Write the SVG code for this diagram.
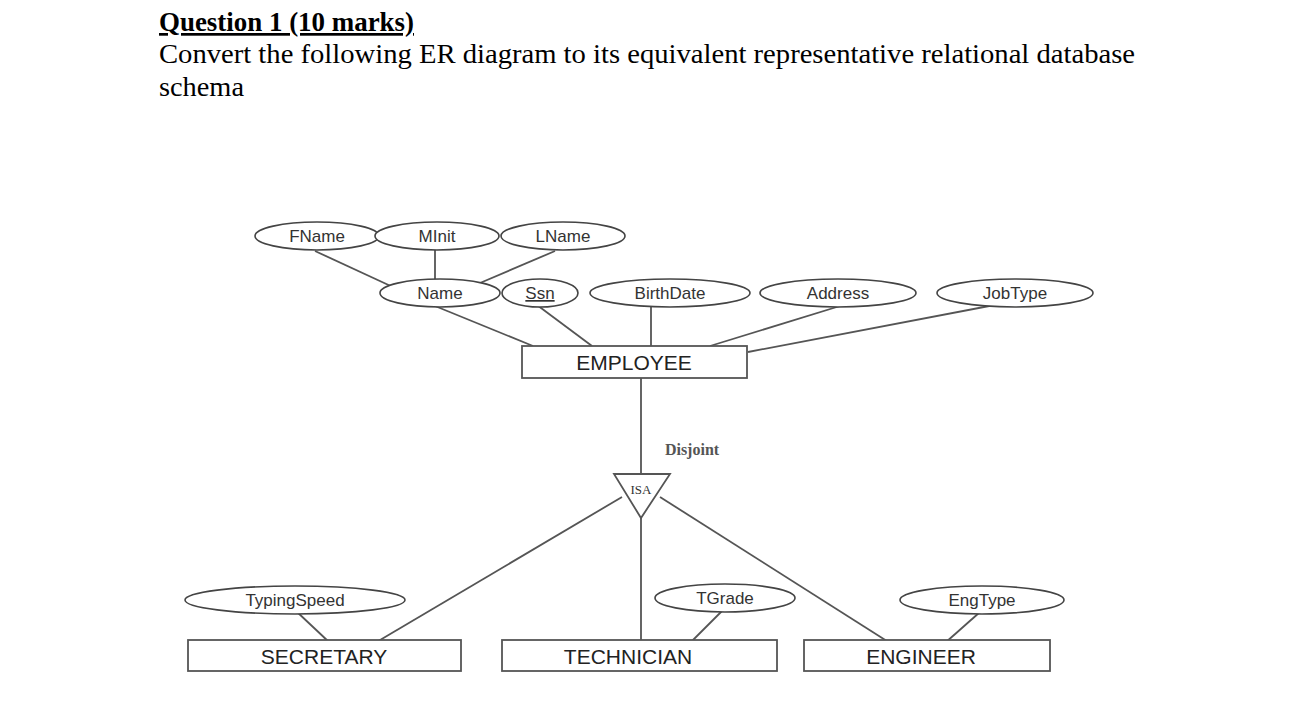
<svg xmlns="http://www.w3.org/2000/svg" width="1316" height="722" viewBox="0 0 1316 722">
<style>
.h{font-family:"Liberation Serif",serif;font-size:27px;fill:#000}
.a{fill:#fff;stroke:#444;stroke-width:1.6}
.e{fill:#fff;stroke:#555;stroke-width:1.8}
.t{font-family:"Liberation Sans",Arial,sans-serif;font-size:17px;fill:#333;text-anchor:middle}
.et{font-family:"Liberation Sans",Arial,sans-serif;font-size:21px;fill:#222;text-anchor:middle}
.l{stroke:#555;stroke-width:1.8;fill:none}
</style>
<rect width="1316" height="722" fill="#fff"/>
<text class="h" x="159" y="31" font-weight="bold" text-decoration="underline" textLength="255" lengthAdjust="spacingAndGlyphs">Question 1 (10 marks)</text>
<text class="h" x="159" y="63" textLength="976" lengthAdjust="spacingAndGlyphs">Convert the following ER diagram to its equivalent representative relational database</text>
<text class="h" x="159" y="96" textLength="85" lengthAdjust="spacingAndGlyphs">schema</text>
<g id="connectors">
<line class="l" x1="315" y1="251" x2="395" y2="288"/>
<line class="l" x1="435" y1="250" x2="435" y2="280"/>
<line class="l" x1="555" y1="251" x2="480" y2="283"/>
<line class="l" x1="435" y1="306" x2="533" y2="346"/>
<line class="l" x1="537" y1="305" x2="592" y2="346"/>
<line class="l" x1="651" y1="307" x2="651" y2="346"/>
<line class="l" x1="840" y1="306" x2="710" y2="346"/>
<line class="l" x1="1005" y1="303" x2="748" y2="352"/>
<line class="l" x1="641" y1="378" x2="641" y2="474"/>
<line class="l" x1="622" y1="497" x2="375" y2="643"/>
<line class="l" x1="660" y1="497" x2="890" y2="643"/>
<line class="l" x1="641" y1="518" x2="641" y2="643"/>
<line class="l" x1="295" y1="610" x2="330" y2="643"/>
<line class="l" x1="722" y1="611" x2="690" y2="643"/>
<line class="l" x1="980" y1="612" x2="945" y2="643"/>
</g>
<g id="FName"><ellipse class="a" cx="317" cy="236" rx="62" ry="14"/><text class="t" x="317" y="242">FName</text></g>
<g id="MInit"><ellipse class="a" cx="437" cy="236" rx="62" ry="14"/><text class="t" x="437" y="242">MInit</text></g>
<g id="LName"><ellipse class="a" cx="563" cy="236" rx="62" ry="14"/><text class="t" x="563" y="242">LName</text></g>
<g id="Name"><ellipse class="a" cx="440" cy="293" rx="60" ry="14"/><text class="t" x="440" y="299">Name</text></g>
<g id="Ssn"><ellipse class="a" cx="540" cy="293" rx="38" ry="14"/><text class="t" x="540" y="299" text-decoration="underline">Ssn</text></g>
<g id="BirthDate"><ellipse class="a" cx="670" cy="293" rx="80" ry="14"/><text class="t" x="670" y="299">BirthDate</text></g>
<g id="Address"><ellipse class="a" cx="838" cy="293" rx="78" ry="14"/><text class="t" x="838" y="299">Address</text></g>
<g id="JobType"><ellipse class="a" cx="1015" cy="293" rx="78" ry="14"/><text class="t" x="1015" y="299">JobType</text></g>
<g id="EMPLOYEE"><rect class="e" x="522" y="346" width="225" height="32"/><text class="et" x="634" y="370">EMPLOYEE</text></g>
<g id="ISA"><polygon class="e" points="614,474 670,474 641,518"/><text x="641" y="494" font-family="Liberation Serif,serif" font-size="13" fill="#333" text-anchor="middle">ISA</text></g>
<text x="692" y="455" font-family="Liberation Serif,serif" font-size="16" font-weight="bold" fill="#555" text-anchor="middle">Disjoint</text>
<g id="TypingSpeed"><ellipse class="a" cx="295" cy="600" rx="110" ry="14"/><text class="t" x="295" y="606">TypingSpeed</text></g>
<g id="TGrade"><ellipse class="a" cx="725" cy="598" rx="70" ry="14"/><text class="t" x="725" y="604">TGrade</text></g>
<g id="EngType"><ellipse class="a" cx="982" cy="600" rx="82" ry="14"/><text class="t" x="982" y="606">EngType</text></g>
<g id="SECRETARY"><rect class="e" x="188" y="640" width="273" height="31"/><text class="et" x="324" y="664">SECRETARY</text></g>
<g id="TECHNICIAN"><rect class="e" x="502" y="640" width="275" height="31"/><text class="et" x="628" y="664">TECHNICIAN</text></g>
<g id="ENGINEER"><rect class="e" x="804" y="640" width="246" height="31"/><text class="et" x="921" y="664">ENGINEER</text></g>
</svg>
